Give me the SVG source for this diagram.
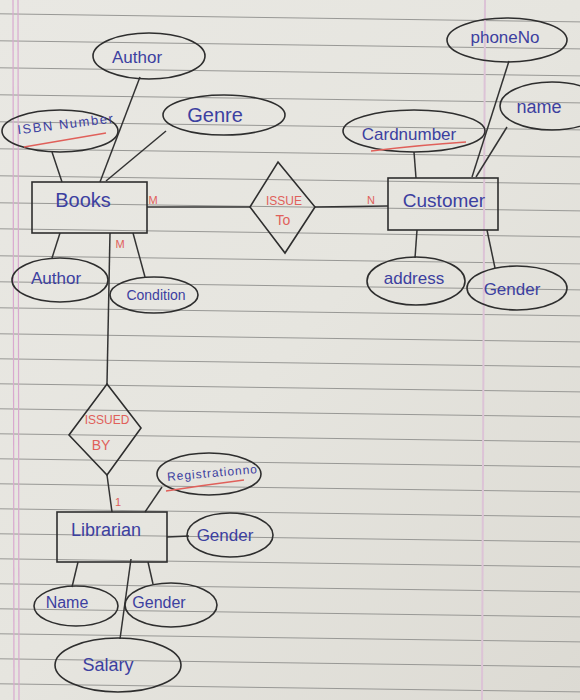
<svg xmlns="http://www.w3.org/2000/svg" width="580" height="700" viewBox="0 0 580 700">
<defs>
<linearGradient id="paper" x1="0" y1="0" x2="1" y2="1">
<stop offset="0" stop-color="#e9e8e3"/>
<stop offset="0.5" stop-color="#e6e5df"/>
<stop offset="1" stop-color="#dcdad3"/>
</linearGradient>
<style>
.rule{stroke:#989895;stroke-width:1;fill:none}
.margin{stroke:#d9a9cf;stroke-width:1.2;fill:none}
.shape{fill:none;stroke:#2e2e2e;stroke-width:1.6}
.conn{fill:none;stroke:#333;stroke-width:1.5}
.lbl{font-family:"Liberation Sans","DejaVu Sans",sans-serif;fill:#3c40a0;text-anchor:middle;dominant-baseline:central}
.red{font-family:"Liberation Sans","DejaVu Sans",sans-serif;fill:#e0605a;text-anchor:middle;dominant-baseline:central}
.ul{stroke:#e0605a;stroke-width:1.3;fill:none}
</style>
</defs>
<rect width="580" height="700" fill="url(#paper)"/>
<g id="paper-lines">
<line class="rule" x1="0" y1="13.8" x2="580" y2="21.9"/>
<line class="rule" x1="0" y1="40.8" x2="580" y2="48.9"/>
<line class="rule" x1="0" y1="67.8" x2="580" y2="75.9"/>
<line class="rule" x1="0" y1="94.8" x2="580" y2="102.9"/>
<line class="rule" x1="0" y1="121.8" x2="580" y2="129.9"/>
<line class="rule" x1="0" y1="148.8" x2="580" y2="156.9"/>
<line class="rule" x1="0" y1="175.8" x2="580" y2="183.9"/>
<line class="rule" x1="0" y1="202.8" x2="580" y2="210.9"/>
<line class="rule" x1="0" y1="228.8" x2="580" y2="236.9"/>
<line class="rule" x1="0" y1="255.8" x2="580" y2="263.9"/>
<line class="rule" x1="0" y1="281.8" x2="580" y2="289.9"/>
<line class="rule" x1="0" y1="307.8" x2="580" y2="315.9"/>
<line class="rule" x1="0" y1="333.8" x2="580" y2="341.9"/>
<line class="rule" x1="0" y1="358.8" x2="580" y2="366.9"/>
<line class="rule" x1="0" y1="383.8" x2="580" y2="391.9"/>
<line class="rule" x1="0" y1="408.8" x2="580" y2="416.9"/>
<line class="rule" x1="0" y1="433.8" x2="580" y2="441.9"/>
<line class="rule" x1="0" y1="458.8" x2="580" y2="466.9"/>
<line class="rule" x1="0" y1="483.8" x2="580" y2="491.9"/>
<line class="rule" x1="0" y1="508.8" x2="580" y2="516.9"/>
<line class="rule" x1="0" y1="533.8" x2="580" y2="541.9"/>
<line class="rule" x1="0" y1="558.8" x2="580" y2="566.9"/>
<line class="rule" x1="0" y1="583.8" x2="580" y2="591.9"/>
<line class="rule" x1="0" y1="608.8" x2="580" y2="616.9"/>
<line class="rule" x1="0" y1="633.8" x2="580" y2="641.9"/>
<line class="rule" x1="0" y1="658.8" x2="580" y2="666.9"/>
<line class="rule" x1="0" y1="683.8" x2="580" y2="691.9"/>
<line class="margin" x1="13" y1="0" x2="14" y2="700"/>
<line class="margin" x1="18" y1="0" x2="19" y2="700"/>
<line class="margin" x1="485" y1="0" x2="482" y2="700" style="stroke:#dcc3d6;stroke-width:2"/>
</g>
<g id="connectors">
<line class="conn" x1="140" y1="77" x2="100" y2="182"/>
<line class="conn" x1="52" y1="152" x2="62" y2="182"/>
<line class="conn" x1="166" y1="131" x2="106" y2="181"/>
<line class="conn" x1="147" y1="207" x2="250" y2="207"/>
<line class="conn" x1="315" y1="207" x2="388" y2="206"/>
<line class="conn" x1="509" y1="61" x2="472" y2="177"/>
<line class="conn" x1="507" y1="127" x2="476" y2="177"/>
<line class="conn" x1="414" y1="152" x2="416" y2="178"/>
<line class="conn" x1="417" y1="230" x2="415" y2="258"/>
<line class="conn" x1="487" y1="230" x2="495" y2="268"/>
<line class="conn" x1="60" y1="233" x2="52" y2="258"/>
<line class="conn" x1="133" y1="233" x2="145" y2="277"/>
<line class="conn" x1="110" y1="233" x2="107" y2="384"/>
<line class="conn" x1="107" y1="475" x2="112" y2="512"/>
<line class="conn" x1="162" y1="487" x2="145" y2="512"/>
<line class="conn" x1="167" y1="537" x2="189" y2="536"/>
<line class="conn" x1="78" y1="562" x2="72" y2="587"/>
<line class="conn" x1="148" y1="562" x2="153" y2="584"/>
<line class="conn" x1="131" y1="559" x2="120" y2="639"/>
</g>
<g id="books">
<rect class="shape" x="32" y="182" width="115" height="51"/>
<text class="lbl" x="83" y="200" font-size="20">Books</text>
</g>
<g id="books-author-top">
<ellipse class="shape" cx="149" cy="56" rx="56" ry="23"/>
<text class="lbl" x="137" y="57" font-size="17">Author</text>
</g>
<g id="isbn">
<ellipse class="shape" cx="60" cy="131" rx="58" ry="21"/>
<text class="lbl" x="65" y="124" font-size="13" textLength="96" transform="rotate(-7 65 124)">ISBN Number</text>
<path class="ul" d="M24 147 Q 65 140 106 133"/>
</g>
<g id="genre">
<ellipse class="shape" cx="224" cy="115" rx="61" ry="20"/>
<text class="lbl" x="215" y="115" font-size="20">Genre</text>
</g>
<g id="issue-to">
<polygon class="shape" points="278,162 315,207 285,253 250,207"/>
<text class="red" x="284" y="201" font-size="12">ISSUE</text>
<text class="red" x="283" y="220" font-size="14">To</text>
</g>
<g id="customer">
<rect class="shape" x="388" y="178" width="110" height="52"/>
<text class="lbl" x="444" y="200" font-size="19">Customer</text>
</g>
<g id="phoneno">
<ellipse class="shape" cx="507" cy="40" rx="60" ry="22"/>
<text class="lbl" x="505" y="37" font-size="17">phoneNo</text>
</g>
<g id="name">
<ellipse class="shape" cx="552" cy="106" rx="52" ry="24"/>
<text class="lbl" x="539" y="107" font-size="18">name</text>
</g>
<g id="cardnumber">
<ellipse class="shape" cx="414" cy="131" rx="71" ry="21"/>
<text class="lbl" x="409" y="134" font-size="17">Cardnumber</text>
<path class="ul" d="M371 151 Q 420 145 466 142"/>
</g>
<g id="address">
<ellipse class="shape" cx="416" cy="281" rx="49" ry="24"/>
<text class="lbl" x="414" y="278" font-size="17">address</text>
</g>
<g id="customer-gender">
<ellipse class="shape" cx="517" cy="288" rx="50" ry="22"/>
<text class="lbl" x="512" y="289" font-size="17">Gender</text>
</g>
<g id="books-author-bottom">
<ellipse class="shape" cx="60" cy="280" rx="48" ry="22"/>
<text class="lbl" x="56" y="278" font-size="17">Author</text>
</g>
<g id="condition">
<ellipse class="shape" cx="154" cy="295" rx="44" ry="18"/>
<text class="lbl" x="156" y="295" font-size="14">Condition</text>
</g>
<g id="cardinality-labels">
<text class="red" x="153" y="200" font-size="11">M</text>
<text class="red" x="120" y="244" font-size="11">M</text>
<text class="red" x="371" y="200" font-size="11">N</text>
<text class="red" x="118" y="502" font-size="11">1</text>
</g>
<g id="issued-by">
<polygon class="shape" points="107,384 141,428 107,475 69,435"/>
<text class="red" x="107" y="420" font-size="12">ISSUED</text>
<text class="red" x="101" y="445" font-size="14">BY</text>
</g>
<g id="librarian">
<rect class="shape" x="57" y="512" width="110" height="50"/>
<text class="lbl" x="106" y="530" font-size="18">Librarian</text>
</g>
<g id="registrationno">
<ellipse class="shape" cx="209" cy="474" rx="52" ry="21"/>
<text class="lbl" x="212" y="473" font-size="12" textLength="90" transform="rotate(-5 212 473)">Registrationno</text>
<path class="ul" d="M166 491 Q 205 485 244 480"/>
</g>
<g id="librarian-gender-right">
<ellipse class="shape" cx="230" cy="535" rx="43" ry="22"/>
<text class="lbl" x="225" y="535" font-size="17">Gender</text>
</g>
<g id="librarian-name">
<ellipse class="shape" cx="76" cy="606" rx="42" ry="20"/>
<text class="lbl" x="67" y="602" font-size="16">Name</text>
</g>
<g id="librarian-gender-bottom">
<ellipse class="shape" cx="171" cy="605" rx="46" ry="22"/>
<text class="lbl" x="159" y="602" font-size="16">Gender</text>
</g>
<g id="salary">
<ellipse class="shape" cx="118" cy="665" rx="63" ry="27"/>
<text class="lbl" x="108" y="665" font-size="18">Salary</text>
</g>
</svg>
